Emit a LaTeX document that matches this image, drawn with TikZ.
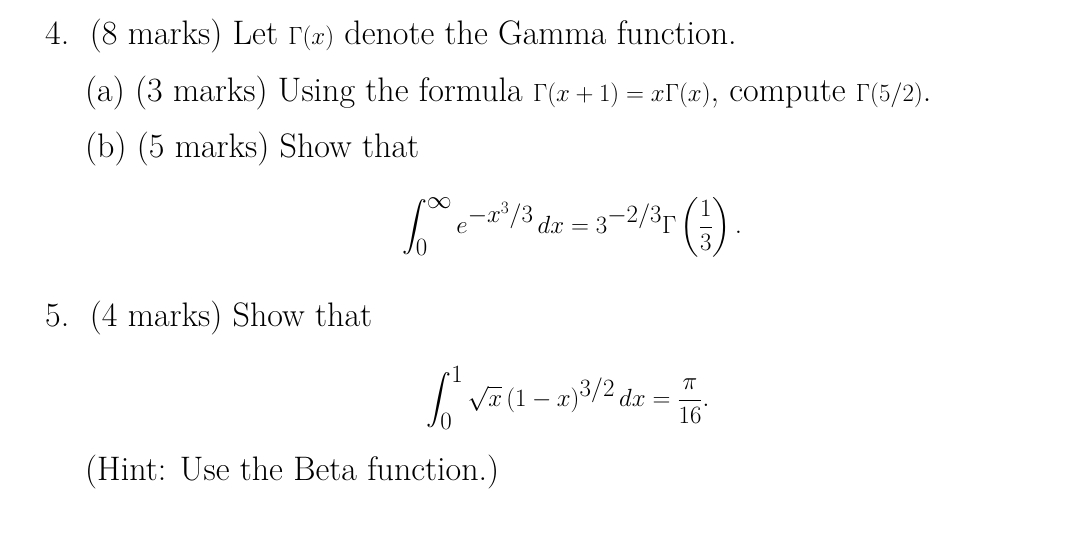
\documentclass[tikz,border=0pt]{standalone}
\usepackage{amsmath}
\begin{document}
\begin{tikzpicture}[x=1pt,y=-1pt,txt/.style={anchor=base west,inner sep=0pt},
  disp/.style={anchor=center,inner sep=0pt}]
\useasboundingbox (0,0) rectangle (1076,534);
\fontsize{34}{41}\selectfont
\node[txt] (l1) at (45,45) {4.\ \ (8 marks) Let $\Gamma(x)$ denote the Gamma function.};
\node[txt] (la) at (85,102) {(a) (3 marks) Using the formula $\Gamma(x+1)=x\Gamma(x)$, compute $\Gamma(5/2)$.};
\node[txt] (lb) at (85,158) {(b) (5 marks) Show that};
\node[disp] (d1) at (572,227) {$\displaystyle\int_0^\infty e^{-x^3/3}\,dx = 3^{-2/3}\Gamma\left(\frac{1}{3}\right).$};
\node[txt] (l5) at (45,327) {5.\ \ (4 marks) Show that};
\node[disp] (d2) at (568,398) {$\displaystyle\int_0^1 \sqrt{x}\,(1-x)^{3/2}\,dx = \frac{\pi}{16}.$};
\node[txt] (lh) at (85,480) {(Hint: Use the Beta function.)};
\end{tikzpicture}
\end{document}
